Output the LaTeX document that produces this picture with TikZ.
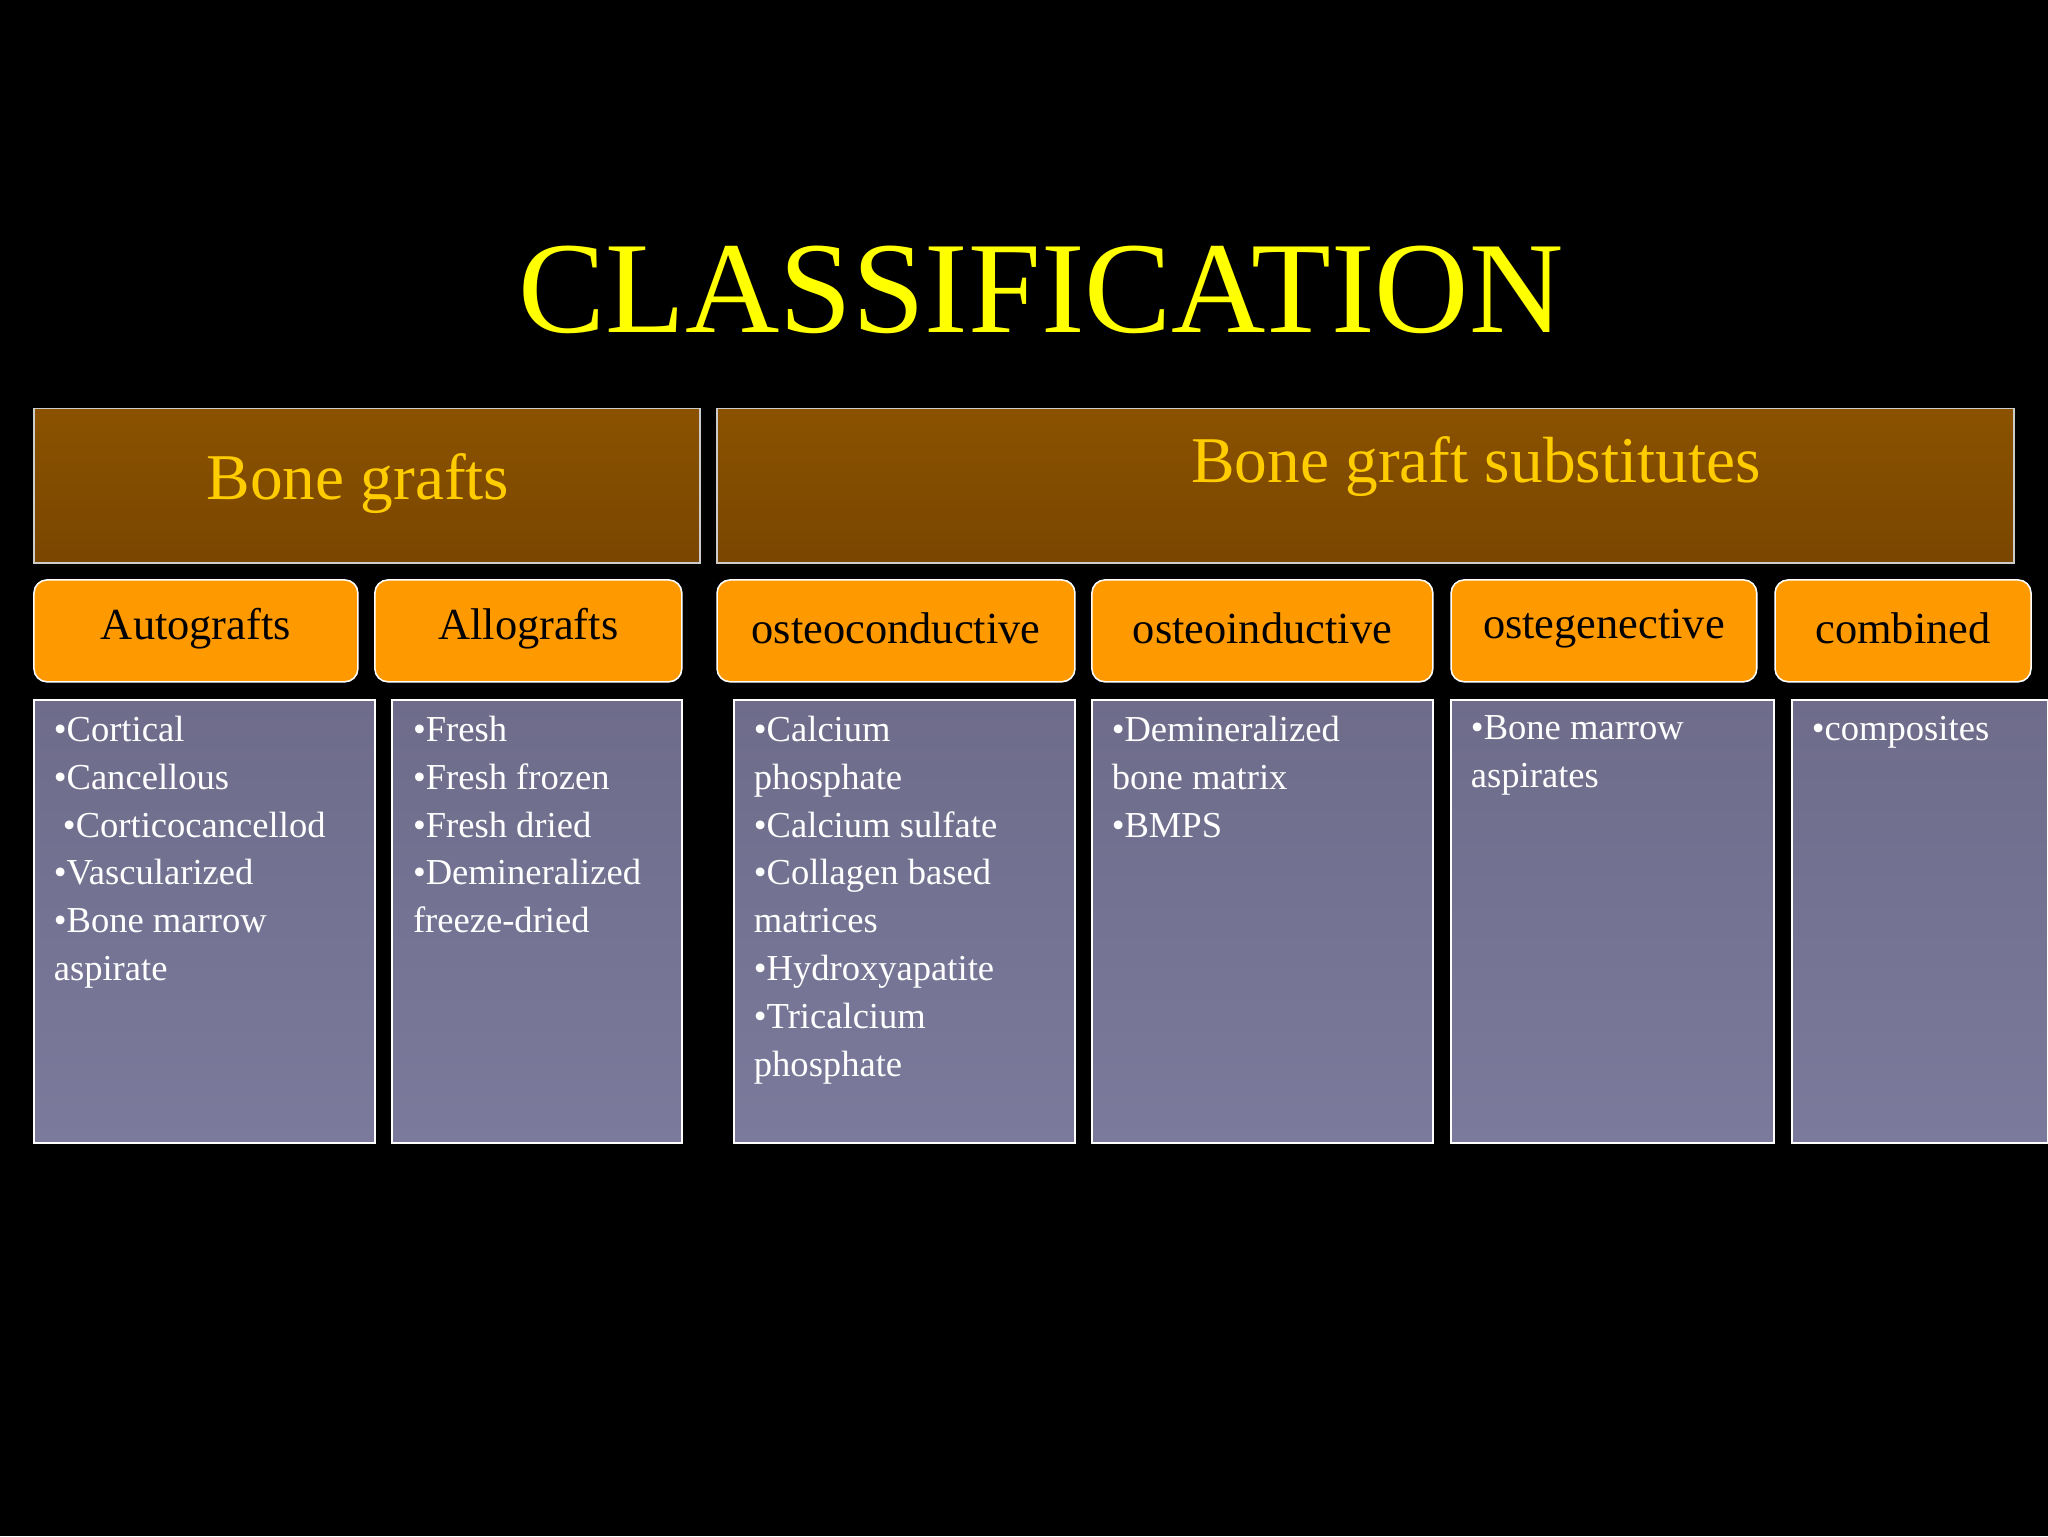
\documentclass[tikz,border=0pt]{standalone}
\usepackage{fontspec}
\setmainfont{Liberation Serif}
\begin{document}
\begin{tikzpicture}[x=1pt,y=-1pt,
  hdr/.style={draw=white!80!black,line width=1pt,top color=brown1,bottom color=brown2},
  sub/.style={draw=white,line width=1.2pt,fill=orng,rounded corners=10pt},
  body/.style={draw=white,line width=1.2pt,top color=grayA,bottom color=grayB},
  txt/.style={anchor=north west,align=left,text=white,font=\fontsize{28}{36.6}\selectfont,inner sep=0pt}]
\definecolor{brown1}{HTML}{8A5200}
\definecolor{brown2}{HTML}{7A4600}
\definecolor{orng}{HTML}{FF9900}
\definecolor{grayA}{HTML}{6E6C8A}
\definecolor{grayB}{HTML}{7C7A9C}
\definecolor{ttl}{HTML}{FFFF00}
\definecolor{gold}{HTML}{FFCC00}
\fill[black] (0,0) rectangle (1568,1176);
\useasboundingbox (0,0) rectangle (1568,1176);
\node (title) at (797,222) {\color{ttl}\fontsize{100}{110}\selectfont CLASSIFICATION};
\draw[hdr] (26,313) rectangle (536,431);
\node (bg) at (274,370) {\color{gold}\fontsize{50}{56}\selectfont Bone grafts};
\draw[hdr] (549,313) rectangle (1542,431);
\node (bgs) at (1130,357) {\color{gold}\fontsize{50}{56}\selectfont Bone graft substitutes};
\foreach \a/\b/\t/\n in {26/274/Autografts/s1,287/522/Allografts/s2,549/823/osteoconductive/s3,836/1097/osteoinductive/s4,1111/1345/ostegenective/s5,1359/1555/combined/s6}{
  \draw[sub] (\a,444) rectangle (\b,522);
  \node (\n) at ({(\a+\b)/2},481) {\fontsize{34}{40}\selectfont \t};
}
\foreach \a/\b in {26/287,300/522,562/823,836/1097,1111/1358,1372/1568}{
  \draw[body] (\a,536) rectangle (\b,875);
}
\node[txt] (t1) at (41,548) {•Cortical\\•Cancellous\\\ •Corticocancellod\\•Vascularized\\•Bone marrow\\aspirate};
\node[txt] (t2) at (316,548) {•Fresh\\•Fresh frozen\\•Fresh dried\\•Demineralized\\freeze-dried};
\node[txt] (t3) at (577,548) {•Calcium\\phosphate\\•Calcium sulfate\\•Collagen based\\matrices\\•Hydroxyapatite\\•Tricalcium\\phosphate};
\node[txt] (t4) at (851,548) {•Demineralized\\bone matrix\\•BMPS};
\node[txt] (t5) at (1126,548) {•Bone marrow\\aspirates};
\node[txt] (t6) at (1387,548) {•composites};
\end{tikzpicture}
\end{document}
